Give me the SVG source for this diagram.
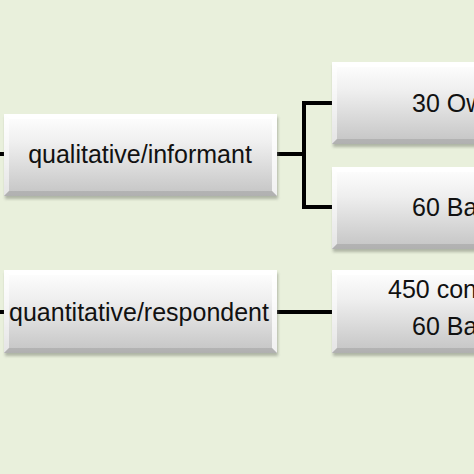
<svg xmlns="http://www.w3.org/2000/svg" width="474" height="474" viewBox="0 0 474 474">
<defs>
<linearGradient id="g" x1="0" y1="0" x2="0" y2="1">
<stop offset="0" stop-color="#ffffff"/>
<stop offset="0.35" stop-color="#efefef"/>
<stop offset="1" stop-color="#c4c4c4"/>
</linearGradient>
<filter id="sh" x="-10%" y="-10%" width="120%" height="130%">
<feGaussianBlur stdDeviation="1.5"/>
</filter>
</defs>
<style>
.bg{fill:#e9f0dc}
.shadow{fill:#7f8478;opacity:0.55;filter:url(#sh)}
.box{fill:url(#g)}
.top{fill:#ffffff;opacity:0.85}
.lft{fill:#ffffff;opacity:0.55}
.rgt{fill:#ffffff;opacity:0.75}
.bot{fill:#9a9a9a;opacity:0.45}
.lbl{font-family:"Liberation Sans",Arial,sans-serif;font-size:25px;fill:#111111}
.c{fill:none;stroke:#000000;stroke-width:4}
</style>
<rect class="bg" x="0" y="0" width="474" height="474"/>

<g id="connectors">
<line class="c" x1="0" y1="154" x2="6" y2="154"/>
<line class="c" x1="0" y1="312" x2="6" y2="312"/>
<polyline class="c" points="277,154 304,154"/>
<polyline class="c" points="332,103 304,103 304,207 332,207"/>
<line class="c" x1="277" y1="312" x2="332" y2="312"/>
</g>

<g id="node-qualitative">
<rect class="shadow" x="5" y="117" width="273" height="82"/>
<rect class="box" x="4" y="114" width="273" height="82"/>
<polygon class="top" points="4,114 277,114 272,119 9,119"/>
<polygon class="lft" points="4,114 9,119 9,191 4,196"/>
<polygon class="rgt" points="277,114 277,196 272,191 272,119"/>
<polygon class="bot" points="4,196 277,196 272,191 9,191"/>
<text class="lbl" x="140" y="163" text-anchor="middle">qualitative/informant</text>
</g>

<g id="node-owners">
<rect class="shadow" x="333" y="65" width="160" height="82"/>
<rect class="box" x="332" y="62" width="160" height="82"/>
<polygon class="top" points="332,62 492,62 487,67 337,67"/>
<polygon class="lft" points="332,62 337,67 337,139 332,144"/>
<polygon class="bot" points="332,144 492,144 487,139 337,139"/>
<text class="lbl" x="412" y="112">30 Ow</text>
</g>

<g id="node-60a">
<rect class="shadow" x="333" y="170" width="160" height="82"/>
<rect class="box" x="332" y="167" width="160" height="82"/>
<polygon class="top" points="332,167 492,167 487,172 337,172"/>
<polygon class="lft" points="332,167 337,172 337,244 332,249"/>
<polygon class="bot" points="332,249 492,249 487,244 337,244"/>
<text class="lbl" x="412" y="216">60 Bar</text>
</g>

<g id="node-quantitative">
<rect class="shadow" x="5" y="273" width="273" height="83"/>
<rect class="box" x="4" y="270" width="273" height="83"/>
<polygon class="top" points="4,270 277,270 272,275 9,275"/>
<polygon class="lft" points="4,270 9,275 9,348 4,353"/>
<polygon class="rgt" points="277,270 277,353 272,348 272,275"/>
<polygon class="bot" points="4,353 277,353 272,348 9,348"/>
<text class="lbl" x="139" y="321" text-anchor="middle">quantitative/respondent</text>
</g>

<g id="node-450">
<rect class="shadow" x="333" y="273" width="160" height="83"/>
<rect class="box" x="332" y="270" width="160" height="83"/>
<polygon class="top" points="332,270 492,270 487,275 337,275"/>
<polygon class="lft" points="332,270 337,275 337,348 332,353"/>
<polygon class="bot" points="332,353 492,353 487,348 337,348"/>
<text class="lbl" x="388" y="298">450 con</text>
<text class="lbl" x="412" y="335">60 Bar</text>
</g>
</svg>
